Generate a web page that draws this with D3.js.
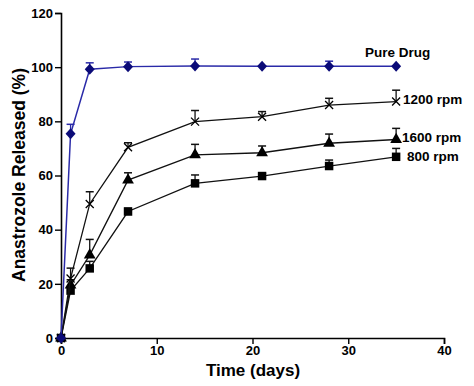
<!DOCTYPE html>
<html><head><meta charset="utf-8">
<script src="https://cdn.jsdelivr.net/npm/d3@7"></script>
<style>body{margin:0;background:#fff}svg{display:block}text{font-family:"Liberation Sans",Arial,sans-serif;font-weight:bold}</style>
</head><body>
<script>
const days = [0, 1, 3, 7, 14, 21, 28, 35];
const pureDrug = [0, 75.4, 99.2, 100.2, 100.4, 100.3, 100.3, 100.3];
const pureDrugErr = [0, 3.5, 2.4, 1.7, 2.6, 0.5, 1.9, 0.5];
const rpm1200 = [0, 22.0, 49.5, 70.4, 79.9, 81.7, 86.0, 87.3];
const rpm1200Err = [0, 3.8, 4.5, 1.7, 4.1, 1.9, 2.5, 4.2];
const rpm1600 = [0, 19.5, 30.6, 58.3, 67.6, 68.4, 71.9, 73.3];
const rpm1600Err = [0, 2.0, 5.8, 2.7, 3.9, 2.5, 3.4, 4.1];
const rpm800 = [0, 17.5, 25.7, 46.7, 57.1, 59.8, 63.5, 66.9];
const rpm800Err = [0, 1.5, 2.6, 1.2, 3.1, 1.0, 2.2, 3.1];
const xTicks = [0, 10, 20, 30, 40];
const yTicks = [0, 20, 40, 60, 80, 100, 120];

const W = 474, H = 386;
const svg = d3.select("body").append("svg").attr("width", W).attr("height", H);
const x = d3.scaleLinear().domain([0, 40]).range([61, 444]);
const y = d3.scaleLinear().domain([0, 120]).range([338, 13]);

const series = [
  {name: "Pure Drug", vals: pureDrug, err: pureDrugErr, line: "#2a2aa8", fill: "#0b0b78", shape: "diamond", size: 0, label: "Pure Drug", lx: 365, ly: 52},
  {name: "1200", vals: rpm1200, err: rpm1200Err, line: "#111", fill: "none", shape: "x", size: 0, label: "1200 rpm", lx: 403, ly: 99},
  {name: "1600", vals: rpm1600, err: rpm1600Err, line: "#111", fill: "#000", shape: d3.symbolTriangle, size: 60, label: "1600 rpm", lx: 402, ly: 137},
  {name: "800", vals: rpm800, err: rpm800Err, line: "#111", fill: "#000", shape: d3.symbolSquare, size: 72, label: "800 rpm", lx: 407, ly: 156}
];

// axes
const gx = svg.append("g").attr("transform", `translate(0,${y(0)})`)
  .call(d3.axisBottom(x).tickValues(xTicks).tickSize(6).tickPadding(2));
const gy = svg.append("g").attr("transform", `translate(${x(0)},0)`)
  .call(d3.axisLeft(y).tickValues(yTicks).tickSize(6).tickPadding(2));
[gx, gy].forEach(g => {
  g.select(".domain").attr("stroke", "#000").attr("stroke-width", 1.6);
  g.selectAll(".tick line").attr("stroke", "#000").attr("stroke-width", 1.4);
  g.selectAll(".tick text").attr("fill", "#000").style("font-size", "13px").style("font-weight", "bold").style("font-family", "'Liberation Sans',Arial,sans-serif");
});

svg.append("text").attr("x", 253).attr("y", 376).attr("text-anchor", "middle")
  .style("font-size", "17px").text("Time (days)");
svg.append("text").attr("transform", "translate(25,175) rotate(-90)").attr("text-anchor", "middle")
  .style("font-size", "17.5px").text("Anastrozole Released (%)");

const line = d3.line().x((d, i) => x(days[i])).y(d => y(d));

const order = [3, 2, 1, 0];
order.forEach(k => {
  const s = series[k];
  const g = svg.append("g");
  s.vals.forEach((v, i) => {
    if (s.err[i] <= 0.8) return;
    const xx = x(days[i]), y0 = y(v), y1 = y(v + s.err[i]);
    g.append("line").attr("x1", xx).attr("x2", xx).attr("y1", y0).attr("y2", y1).attr("stroke", s.line).attr("stroke-width", 1.3);
    g.append("line").attr("x1", xx - 4).attr("x2", xx + 4).attr("y1", y1).attr("y2", y1).attr("stroke", s.line).attr("stroke-width", 1.5);
  });
  g.append("path").datum(s.vals).attr("d", line).attr("fill", "none").attr("stroke", s.line).attr("stroke-width", k === 0 ? 1.5 : 1.3);
  s.vals.forEach((v, i) => {
    const xx = x(days[i]), yy = y(v);
    if (s.shape === "x") {
      g.append("path").attr("d", `M${xx-4},${yy-4}L${xx+4},${yy+4}M${xx-4},${yy+4}L${xx+4},${yy-4}`)
        .attr("stroke", "#000").attr("stroke-width", 1.3).attr("fill", "none");
    } else if (s.shape === "diamond") {
      g.append("path").attr("d", `M${xx},${yy-5.5}L${xx+5},${yy}L${xx},${yy+5.5}L${xx-5},${yy}Z`)
        .attr("fill", s.fill);
    } else {
      g.append("path").attr("d", d3.symbol().type(s.shape).size(s.size)())
        .attr("transform", `translate(${xx},${yy})`).attr("fill", s.fill);
    }
  });
  svg.append("text").attr("x", s.lx).attr("y", s.ly).attr("dy", "0.35em")
    .style("font-size", "13.5px").attr("fill", "#000").text(s.label);
});
</script>
</body></html>
